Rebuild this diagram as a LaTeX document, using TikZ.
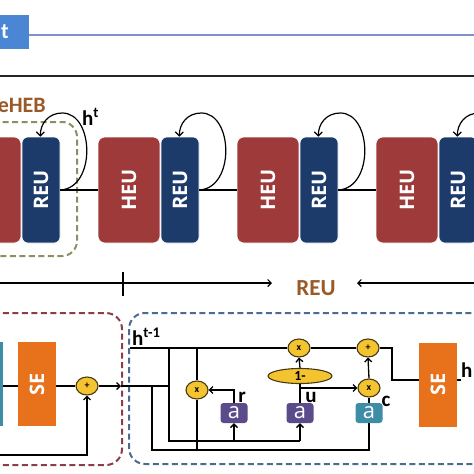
\documentclass[tikz,border=0pt]{standalone}
\usepackage{fontspec}
\usepackage{graphicx}
\setmainfont{Carlito}
\newfontfamily\boxfont{Open Sans}
\usetikzlibrary{arrows.meta,shapes.geometric,calc}
\definecolor{heuc}{RGB}{158,58,58}
\definecolor{reuc}{RGB}{28,59,107}
\definecolor{olivec}{RGB}{142,142,98}
\definecolor{brownc}{RGB}{154,90,40}
\definecolor{topblue}{RGB}{74,134,212}
\definecolor{topline}{RGB}{128,144,200}
\definecolor{orangec}{RGB}{232,113,28}
\definecolor{tealc}{RGB}{62,141,166}
\definecolor{purpc}{RGB}{91,75,139}
\definecolor{yelc}{RGB}{244,196,48}
\definecolor{circd}{RGB}{70,58,20}
\definecolor{reddash}{RGB}{142,59,74}
\definecolor{bluedash}{RGB}{76,107,145}
\tikzset{
  heubox/.style={fill=heuc, draw=white, line width=0.6pt, rounded corners=7pt, minimum width=62pt, minimum height=106pt, inner sep=0pt, text=white, font=\boxfont\bfseries\fontsize{20}{20}\selectfont},
  reubox/.style={fill=reuc, draw=white, line width=0.6pt, rounded corners=6pt, minimum width=38pt, minimum height=106pt, inner sep=0pt, text=white, font=\boxfont\bfseries\fontsize{20}{20}\selectfont},
  sebox/.style={fill=orangec, minimum width=38pt, minimum height=84pt, inner sep=0pt, text=white, font=\boxfont\bfseries\fontsize{20}{20}\selectfont},
  gate/.style={rounded corners=3pt, minimum width=27pt, minimum height=20pt, inner sep=0pt, text=white, font=\boxfont\fontsize{22}{22}\selectfont},
  circ/.style={ellipse, fill=yelc, draw=circd, line width=1.1pt, minimum width=22pt, minimum height=18pt, inner sep=0pt, font=\bfseries\fontsize{10}{10}\selectfont},
  conn/.style={line width=1.3pt, black},
  arr/.style={conn, -{Straight Barb[length=3.5pt,width=7pt]}},
  loopc/.style={line width=1.2pt, -{Straight Barb[length=4pt,width=8pt]}},
  lbl/.style={font=\bfseries\fontsize{21}{21}\selectfont, inner sep=0pt},
}
\begin{document}
\begin{tikzpicture}[x=1pt,y=-1pt]
\useasboundingbox (0,0) rectangle (474,474);
\clip (0,0) rectangle (474,474);

% header
\node[fill=topblue, minimum width=49pt, minimum height=34pt, inner sep=0pt] (tbox) at (4.5,32) {};
\node[text=white, font=\bfseries\fontsize{22}{22}\selectfont, inner sep=0pt] (tt) at (5,32) {t};
\coordinate (tlend) at (474,35);
\draw[topline, line width=1.2pt] (tbox.east |- tlend) -- (tlend);
\coordinate (hl1) at (0,76);
\coordinate (hl2) at (474,76);
\draw[line width=1.6pt, black!85] (hl1) -- (hl2);

% top row
\node[text=brownc, font=\bfseries\fontsize{22}{22}\selectfont, anchor=base east, inner sep=0pt] (eheb) at (46,112) {eHEB};
\draw[olivec, line width=2pt, dash pattern=on 6pt off 3.5pt, rounded corners=15pt] (-20,122) rectangle (77,256);

\node[heubox] (heu1) at (-10,190) {};
\node[reubox] (reu1) at (41,190) {\rotatebox{90}{REU}};
\node[heubox] (heu2) at (129,190) {\rotatebox{90}{HEU}};
\node[reubox] (reu2) at (180,190) {\rotatebox{90}{REU}};
\node[heubox] (heu3) at (268,190) {\rotatebox{90}{HEU}};
\node[reubox] (reu3) at (319,190) {\rotatebox{90}{REU}};
\node[heubox] (heu4) at (407,190) {\rotatebox{90}{HEU}};
\node[reubox] (reu4) at (458,190) {\rotatebox{90}{REU}};

\draw[conn, line width=1.1pt] (reu1.east) -- (heu2.west);
\draw[conn, line width=1.1pt] (reu2.east) -- (heu3.west);
\draw[conn, line width=1.1pt] (reu3.east) -- (heu4.west);

\foreach \r in {reu1,reu2,reu3,reu4}{
  \draw[loopc] (\r.east) .. controls +(36,-2) and +(32,0) .. ($(\r.east)+(2,-77)$) .. controls +(-14,0) and +(0,-13) .. ($(\r.north east)+(-20,0)$);
}
\node[lbl, anchor=base west] (ht) at (82,125) {h\textsuperscript{t}};

% middle axis
\coordinate (ax0) at (0,283);
\coordinate (ax1) at (272,283);
\coordinate (ax2) at (357,283);
\coordinate (ax3) at (474,283);
\coordinate (tk1) at (123,272);
\coordinate (tk2) at (123,296);
\draw[arr, line width=1.1pt] (ax0) -- (ax1);
\draw[arr, line width=1.1pt] (ax3) -- (ax2);
\draw[conn, line width=1.1pt] (tk1) -- (tk2);
\node[text=brownc, font=\bfseries\fontsize{23}{23}\selectfont, inner sep=0pt] (reulbl) at (316,288) {REU};

% dashed containers
\draw[reddash, line width=2pt, dash pattern=on 6pt off 3.5pt, rounded corners=16pt] (-20,313) rectangle (122,465);
\draw[bluedash, line width=2pt, dash pattern=on 6pt off 3.5pt, rounded corners=16pt] (129,313) rectangle (500,464);

% red part
\node[fill=tealc, minimum width=34pt, minimum height=84pt, inner sep=0pt] (tb) at (-14,384) {};
\node[sebox] (se1) at (37,384) {\rotatebox{90}{SE}};
\node[circ] (plus1) at (87,386) {+};
\draw[conn] (tb.east |- plus1) -- (se1.west |- plus1);
\draw[conn] (se1.east |- plus1) -- (plus1.west);
\coordinate (ra) at (121,386);
\coordinate (rj) at (169,386);
\draw[arr] (plus1.east) -- (ra);
\draw[conn] (ra) -- (rj);
\coordinate (rb) at (-5,455);
\draw[arr] (rb) -| (plus1.south);

% blue part
\node[circ] (xr) at (197,390) {x};
\node[circ] (xu) at (299,348) {x};
\node[circ] (plus2) at (368,348) {+};
\node[circ] (xc) at (369,388) {x};
\node[ellipse, fill=yelc, draw=circd, line width=1.1pt, minimum width=64pt, minimum height=15pt, inner sep=0pt, font=\bfseries\fontsize{14}{14}\selectfont] (onem) at (300,376) {1-};
\node[gate, fill=purpc] (ar) at (234,413) {a};
\node[gate, fill=purpc] (au) at (300,413) {a};
\node[gate, fill=tealc] (ac) at (369,413) {a};
\node[sebox] (se2) at (438,384.5) {\rotatebox{90}{SE}};

\node[lbl, anchor=base west] (hprev) at (132,345) {h\textsuperscript{t-1}};
\node[lbl, anchor=base] (rl) at (242,402) {r};
\node[lbl, anchor=base] (ul) at (311,402) {u};
\node[lbl, anchor=base] (cl) at (386,406) {c};
\node[lbl, anchor=base west] (hout) at (461,377) {h};

\coordinate (hs) at (130,348);
\coordinate (j1) at (169,348);
\coordinate (j1b) at (169,441);
\coordinate (j2) at (197,348);
\coordinate (j2b) at (197,450);
\coordinate (j3) at (152,386);
\coordinate (j3b) at (152,450);
\coordinate (k2) at (392,380);

\draw[conn] (hs) -- (xu.west);
\draw[conn] (xu.east) -- (plus2.west);
\draw[conn] (plus2.east) -| (k2) -- (k2 -| se2.west);
\draw[conn] (k2 -| se2.east) -- (hout.west |- k2);
\draw[conn] (j1) -- (j1b) -- (j1b -| au);
\draw[arr] (j1b -| au) -- (au.south);
\draw[arr] (j1b -| ar) -- (ar.south);
\draw[conn] (j2) -- (xr.north);
\draw[conn] (xr.south) -- (j2b);
\draw[conn] (j3) -- (j3b) -- (j3b -| ac) -- (ac.south);
\draw[arr] (ar.north) -- (ar.north |- xr.east) -- (xr.east);
\draw[conn] (au.north) -- (onem.south);
\draw[arr] (onem.north) -- (xu.south);
\draw[arr] (au |- xc.west) -- (xc.west);
\draw[arr] (xc.north) -- (plus2.south);
\draw[conn] (ac.north) -- (xc.south);
\end{tikzpicture}
\end{document}
